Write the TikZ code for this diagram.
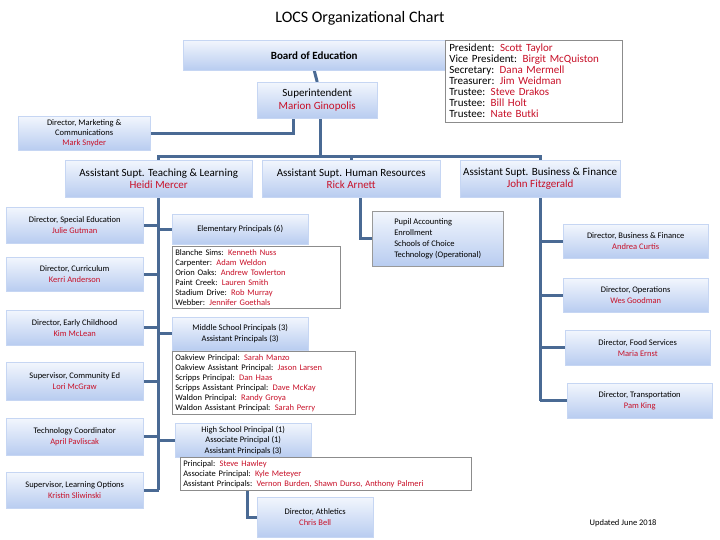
\documentclass[tikz,border=0pt]{standalone}
\usepackage{fontspec}
\setmainfont{Carlito}
\usetikzlibrary{backgrounds}
\definecolor{nm}{RGB}{200,16,40}
\definecolor{ln}{RGB}{74,106,148}
\definecolor{btop}{RGB}{242,246,253}
\definecolor{bbot}{RGB}{184,204,240}
\newcommand{\nm}[1]{\textcolor{nm}{#1}}
\tikzset{
 box/.style={anchor=north west, top color=btop, bottom color=bbot, draw=bbot!80!white, line width=0.4pt, align=center, inner sep=1pt},
 lst/.style={anchor=north west, fill=white, draw=black!45, line width=0.6pt, align=left, inner sep=3pt, text width=#1},
 conn/.style={draw=ln, line width=3pt},
 big/.style={font=\fontsize{11}{12.5}\selectfont},
 sm/.style={font=\fontsize{8.5}{11}\selectfont},
}
\begin{document}
\begin{tikzpicture}[x=1pt,y=-1pt]
\useasboundingbox (0,0) rectangle (720,540);
\node (title) at (360,18) {\fontsize{16}{18}\selectfont LOCS Organizational Chart};
\node[box,big,minimum width=262,minimum height=30] (board) at (183,40) {\textbf{Board of Education}};
\node[lst=169,anchor=north west,font=\fontsize{11}{11}\selectfont,inner sep=4pt] (members) at (445,40) {President: \nm{Scott Taylor}\\Vice President: \nm{Birgit McQuiston}\\Secretary: \nm{Dana Mermell}\\Treasurer: \nm{Jim Weidman}\\Trustee: \nm{Steve Drakos}\\Trustee: \nm{Bill Holt}\\Trustee: \nm{Nate Butki}};
\node[box,big,minimum width=120,minimum height=36] (sup) at (257,82) {Superintendent\\\nm{Marion Ginopolis}};
\node[box,sm,minimum width=132,minimum height=34,font=\fontsize{8.5}{10}\selectfont] (mkt) at (18,116) {Director, Marketing \&\\Communications\\\nm{Mark Snyder}};
\node[box,big,minimum width=187,minimum height=37] (tl) at (65,160) {Assistant Supt. Teaching \& Learning\\\nm{Heidi Mercer}};
\node[box,big,minimum width=178,minimum height=37] (hr) at (262,160) {Assistant Supt. Human Resources\\\nm{Rick Arnett}};
\node[box,big,minimum width=160,minimum height=37] (bf) at (460,160) {Assistant Supt. Business \& Finance\\\nm{John Fitzgerald}};
% left column
\node[box,sm,minimum width=137,minimum height=36] (se) at (6,207) {Director, Special Education\\\nm{Julie Gutman}};
\node[box,sm,minimum width=137,minimum height=34] (cu) at (6,257) {Director, Curriculum\\\nm{Kerri Anderson}};
\node[box,sm,minimum width=137,minimum height=35] (ec) at (6,310) {Director, Early Childhood\\\nm{Kim McLean}};
\node[box,sm,minimum width=137,minimum height=38] (ce) at (6,362) {Supervisor, Community Ed\\\nm{Lori McGraw}};
\node[box,sm,minimum width=137,minimum height=37] (tc) at (6,418) {Technology Coordinator\\\nm{April Pavliscak}};
\node[box,sm,minimum width=137,minimum height=36] (lo) at (6,472) {Supervisor, Learning Options\\\nm{Kristin Sliwinski}};
% middle column
\node[box,sm,minimum width=136,minimum height=30] (el) at (172,214) {Elementary Principals (6)};
\node[lst=162,sm,font=\fontsize{8.5}{10}\selectfont] (ell) at (172,246) {Blanche Sims: \nm{Kenneth Nuss}\\Carpenter: \nm{Adam Weldon}\\Orion Oaks: \nm{Andrew Towlerton}\\Paint Creek: \nm{Lauren Smith}\\Stadium Drive: \nm{Rob Murray}\\Webber: \nm{Jennifer Goethals}};
\node[box,sm,minimum width=136,minimum height=33] (ms) at (172,317) {Middle School Principals (3)\\Assistant Principals (3)};
\node[lst=177,sm,font=\fontsize{8.5}{10}\selectfont] (msl) at (172,351) {Oakview Principal: \nm{Sarah Manzo}\\Oakview Assistant Principal: \nm{Jason Larsen}\\Scripps Principal: \nm{Dan Haas}\\Scripps Assistant Principal: \nm{Dave McKay}\\Waldon Principal: \nm{Randy Groya}\\Waldon Assistant Principal: \nm{Sarah Perry}};
\node[box,sm,minimum width=136,minimum height=34,font=\fontsize{8.5}{10.5}\selectfont] (hs) at (175,423) {High School Principal (1)\\Associate Principal (1)\\Assistant Principals (3)};
\node[lst=285,sm,font=\fontsize{8.5}{10}\selectfont] (hsl) at (180,457) {Principal: \nm{Steve Hawley}\\Associate Principal: \nm{Kyle Meteyer}\\Assistant Principals: \nm{Vernon Burden, Shawn Durso, Anthony Palmeri}};
\node[box,sm,minimum width=116,minimum height=40] (ath) at (257,497) {Director, Athletics\\\nm{Chris Bell}};
% HR
\node[box,sm,anchor=north west,align=left,draw=black!40,minimum width=131,minimum height=55,inner sep=5pt] (pupil) at (372,211) {Pupil Accounting\\Enrollment\\Schools of Choice\\Technology (Operational)};
% BF column
\node[box,sm,minimum width=145,minimum height=34] (dbf) at (563,224) {Director, Business \& Finance\\\nm{Andrea Curtis}};
\node[box,sm,minimum width=145,minimum height=34] (ops) at (563,278) {Director, Operations\\\nm{Wes Goodman}};
\node[box,sm,minimum width=145,minimum height=35] (food) at (565,330) {Director, Food Services\\\nm{Maria Ernst}};
\node[box,sm,minimum width=145,minimum height=35] (tr) at (567,383) {Director, Transportation\\\nm{Pam King}};
\node (upd) at (623,523) {\fontsize{8.5}{10}\selectfont Updated June 2018};
\begin{scope}[on background layer]
\coordinate (j) at (320,157);
\draw[conn] (board.south) -- (sup.north);
\draw[conn] ([xshift=-24pt]sup.south) |- (mkt.east);
\draw[conn] ([xshift=3pt]sup.south) -- ++(0,39);
\draw[conn] (tl.north) -- (tl.north |- j) -| (bf.north);
\draw[conn] (hr.north) -- (hr.north |- j);
\draw[conn] (tl.south) -- (tl.south |- lo.east);
\foreach \n in {se,cu,ec,ce,tc,lo} \draw[conn] (\n.east) -- (\n.east -| tl.south);
\foreach \n in {el,ms,hs} \draw[conn] (\n.west) -- (\n.west -| tl.south);
\draw[conn] ([xshift=-78pt]hsl.south) |- (ath.west);
\draw[conn] ([xshift=9pt]hr.south) |- (pupil.west);
\draw[conn] (bf.south) -- (bf.south |- tr.west);
\foreach \n in {dbf,ops,food,tr} \draw[conn] (\n.west) -- (\n.west -| bf.south);
\end{scope}
\end{tikzpicture}
\end{document}
